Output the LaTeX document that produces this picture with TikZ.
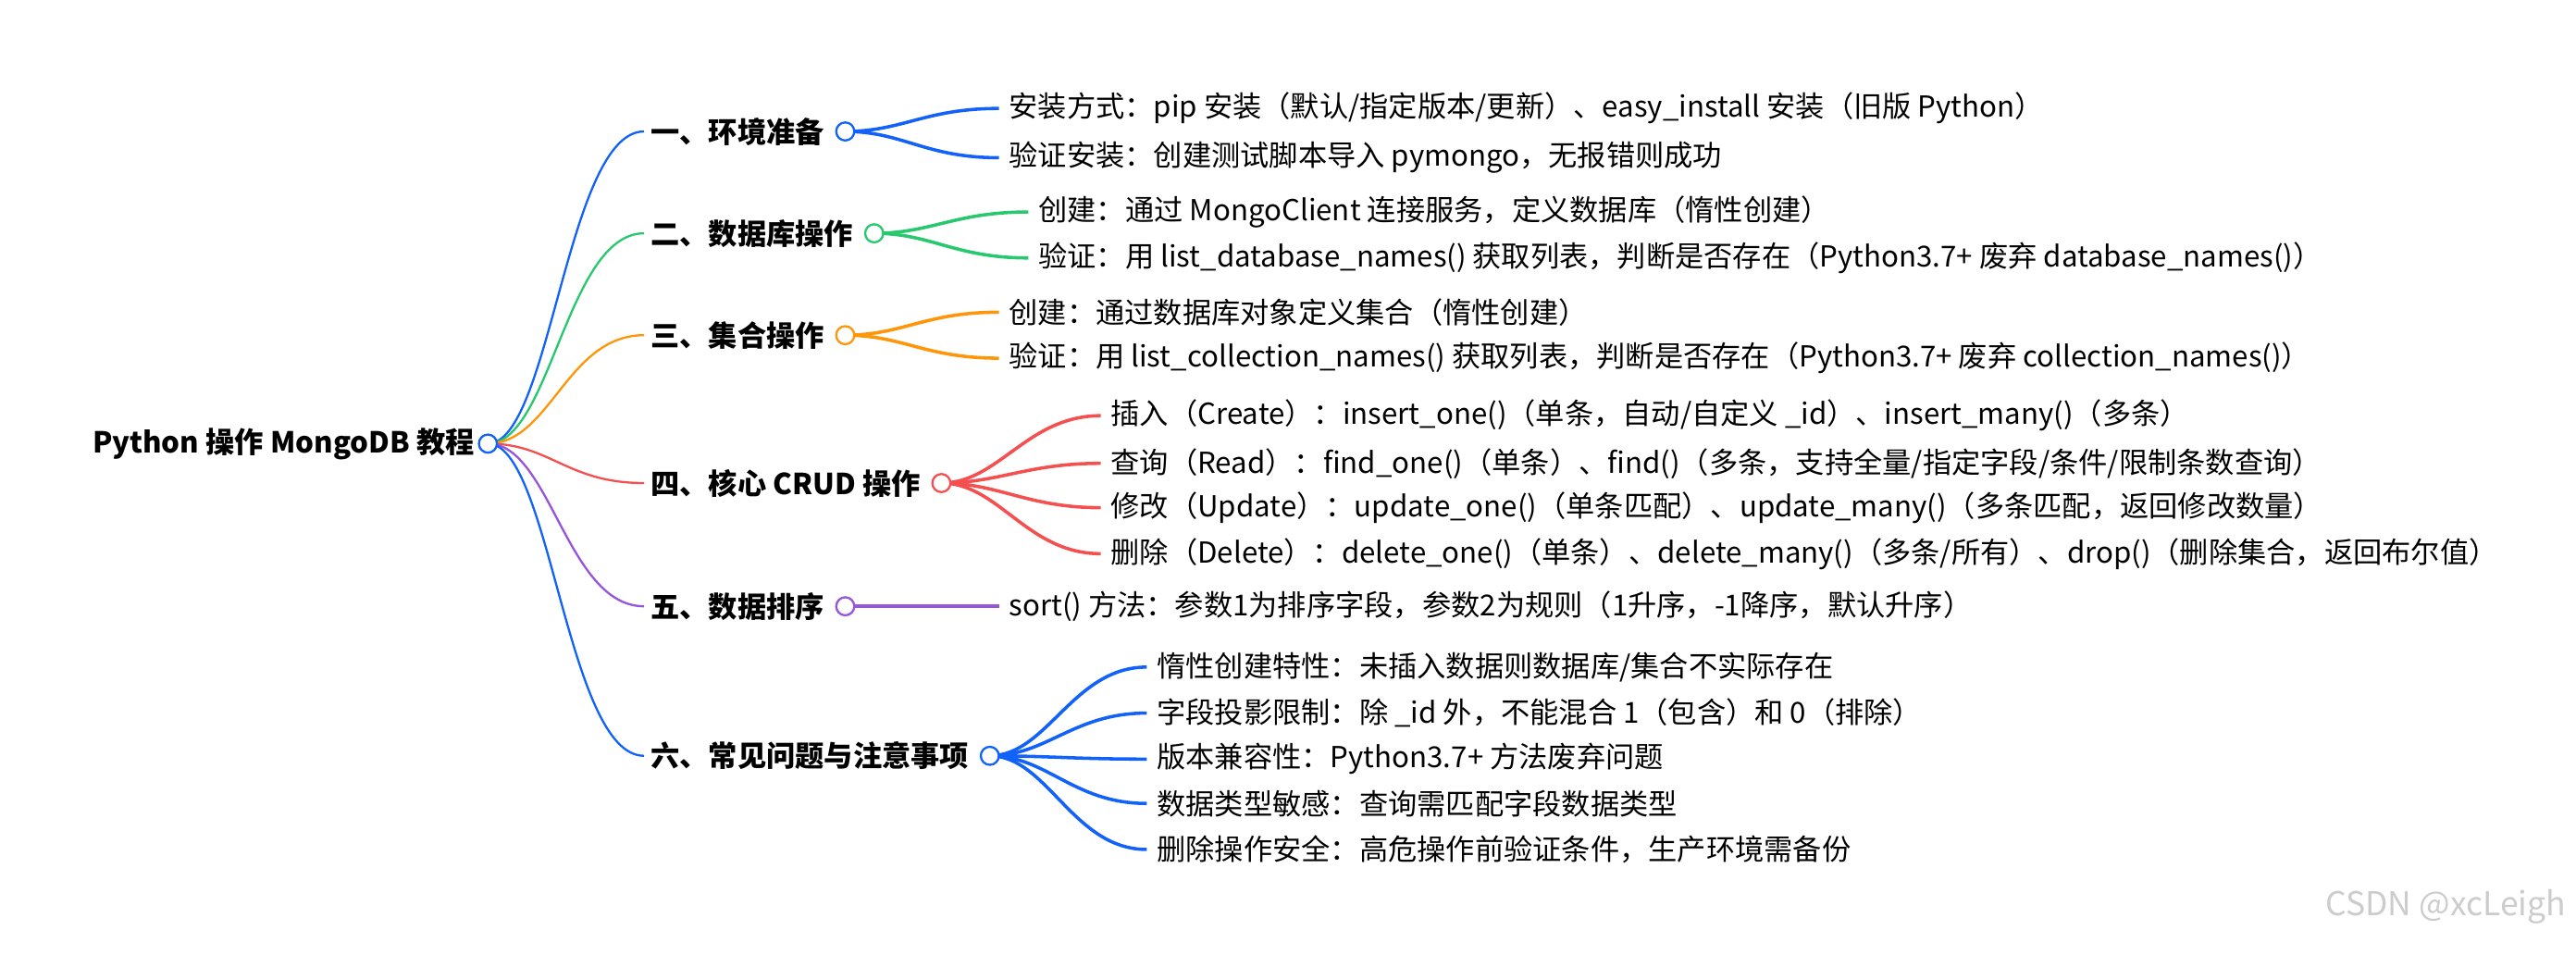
\documentclass[tikz,border=0pt]{standalone}
\usepackage{fontspec}
\setmainfont{Noto Sans CJK SC}
\definecolor{cb}{RGB}{18,98,250}
\definecolor{cg}{RGB}{40,200,110}
\definecolor{co}{RGB}{255,150,10}
\definecolor{cr}{RGB}{245,80,80}
\definecolor{cp}{RGB}{150,85,220}
\tikzset{
 lvl/.style={anchor=west,inner xsep=6pt,inner ysep=0pt,font=\fontsize{17.6}{19}\selectfont\bfseries},
 leaf/.style={anchor=west,inner xsep=6pt,inner ysep=0pt,font=\fontsize{17.6}{19}\selectfont},
 dot/.style={circle,draw,fill=white,line width=1.3pt,minimum size=11pt,inner sep=0pt},
 br/.style={line width=1.3pt},
 lf/.style={line width=2pt},
}
\newcommand{\cn}[3]{\draw[#1] (#2.east) .. controls ([xshift=35]#2.east) and ([xshift=-45]#3.west) .. (#3.west);}
\begin{document}
\begin{tikzpicture}[x=1pt,y=-1pt]
\useasboundingbox (0,0) rectangle (1568,581);
\node[anchor=east,inner sep=0,font=\fontsize{17.6}{19}\selectfont\bfseries] (root) at (289,270) {Python 操作 MongoDB 教程};
% level 1
\node[lvl] (a) at (390,80) {一、环境准备};
\node[lvl] (b) at (390,142) {二、数据库操作};
\node[lvl] (c) at (390,204) {三、集合操作};
\node[lvl] (d) at (390,294) {四、核心 CRUD 操作};
\node[lvl] (e) at (390,369) {五、数据排序};
\node[lvl] (f) at (390,460) {六、常见问题与注意事项};
\foreach \n/\c in {a/cb,b/cg,c/co,d/cr,e/cp,f/cb}{
 \draw[br,\c] (297,270) .. controls (335,270) and (345,0|-\n.west) .. ([xshift=2]\n.west);
}
\node[dot,draw=cb] (c0) at (297,270) {};
% leaves
\node[leaf] (a1) at (608,66) {安装方式：pip 安装（默认/指定版本/更新）、easy\_install 安装（旧版 Python）};
\node[leaf] (a2) at (608,96) {验证安装：创建测试脚本导入 pymongo，无报错则成功};
\node[leaf] (b1) at (626,129) {创建：通过 MongoClient 连接服务，定义数据库（惰性创建）};
\node[leaf] (b2) at (626,157) {验证：用 list\_database\_names() 获取列表，判断是否存在（Python3.7+ 废弃 database\_names()）};
\node[leaf] (c1) at (608,190) {创建：通过数据库对象定义集合（惰性创建）};
\node[leaf] (c2) at (608,218) {验证：用 list\_collection\_names() 获取列表，判断是否存在（Python3.7+ 废弃 collection\_names()）};
\node[leaf] (d1) at (670,253) {插入（Create）：insert\_one()（单条，自动/自定义 \_id）、insert\_many()（多条）};
\node[leaf] (d2) at (670,282) {查询（Read）：find\_one()（单条）、find()（多条，支持全量/指定字段/条件/限制条数查询）};
\node[leaf] (d3) at (670,309) {修改（Update）：update\_one()（单条匹配）、update\_many()（多条匹配，返回修改数量）};
\node[leaf] (d4) at (670,337) {删除（Delete）：delete\_one()（单条）、delete\_many()（多条/所有）、drop()（删除集合，返回布尔值）};
\node[leaf] (e1) at (608,369) {sort() 方法：参数1为排序字段，参数2为规则（1升序，-1降序，默认升序）};
\node[leaf] (f1) at (698,406) {惰性创建特性：未插入数据则数据库/集合不实际存在};
\node[leaf] (f2) at (698,434) {字段投影限制：除 \_id 外，不能混合 1（包含）和 0（排除）};
\node[leaf] (f3) at (698,462) {版本兼容性：Python3.7+ 方法废弃问题};
\node[leaf] (f4) at (698,489) {数据类型敏感：查询需匹配字段数据类型};
\node[leaf] (f5) at (698,517) {删除操作安全：高危操作前验证条件，生产环境需备份};
% circle positions
\coordinate (pa) at ([xshift=6.5]a.east);
\coordinate (pb) at ([xshift=6.5]b.east);
\coordinate (pc) at ([xshift=6.5]c.east);
\coordinate (pd) at ([xshift=6.5]d.east);
\coordinate (pe) at ([xshift=6.5]e.east);
\coordinate (pf) at ([xshift=6.5]f.east);
\foreach \l in {a1,a2}{\cn{lf,cb}{pa}{\l}}
\foreach \l in {b1,b2}{\cn{lf,cg}{pb}{\l}}
\foreach \l in {c1,c2}{\cn{lf,co}{pc}{\l}}
\foreach \l in {d1,d2,d3,d4}{\cn{lf,cr}{pd}{\l}}
\draw[lf,cp] (pe) -- (e1.west);
\foreach \l in {f1,f2,f3,f4,f5}{\cn{lf,cb}{pf}{\l}}
\node[dot,draw=cb] (ca) at (pa) {};
\node[dot,draw=cg] (cbb) at (pb) {};
\node[dot,draw=co] (cc) at (pc) {};
\node[dot,draw=cr] (cd) at (pd) {};
\node[dot,draw=cp] (ce) at (pe) {};
\node[dot,draw=cb] (cf) at (pf) {};
\node[anchor=east,inner sep=0,text=black!20,font=\fontsize{20}{22}\selectfont] (wm) at (1562,552) {CSDN @xcLeigh};
\end{tikzpicture}
\end{document}
